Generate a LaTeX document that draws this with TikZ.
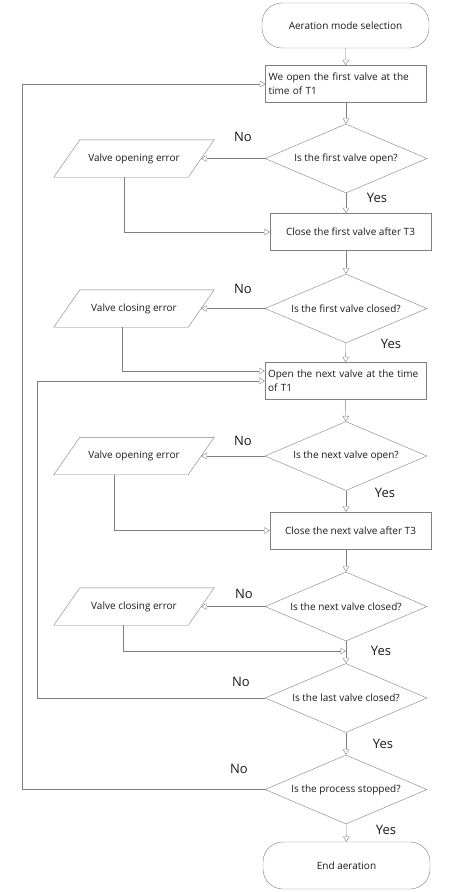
\documentclass[tikz,border=0pt]{standalone}
\usepackage{fontspec}
\setmainfont{Open Sans}
\usetikzlibrary{arrows.meta,shapes.geometric}
\definecolor{linegray}{RGB}{128,128,128}
\definecolor{textgray}{RGB}{25,25,25}

\begin{document}
\begin{tikzpicture}[x=1pt, y=1pt,
    term/.style={draw=linegray, rounded corners=20pt, minimum width=167pt, minimum height=45pt, text=textgray, font=\fontsize{10}{12}\selectfont},
    proc/.style={draw=linegray, minimum width=161pt, minimum height=37pt, inner sep=3pt, text=textgray, font=\fontsize{10}{14}\selectfont},
    procleft/.style={proc, text width=155pt, align=left},
    decision/.style={draw=linegray, diamond, aspect=2.35, inner sep=0pt, minimum width=162pt, minimum height=69pt, text=textgray, font=\fontsize{10}{12}\selectfont},
    errbox/.style={minimum width=134pt, minimum height=37pt, inner sep=0pt, text=textgray, font=\fontsize{10}{12}\selectfont},
    answer/.style={text=textgray, font=\fontsize{13}{15}\selectfont},
    arrow/.style={draw=linegray, -{Triangle[open, length=5.5pt, width=6.5pt]}}
  ]
    \useasboundingbox (0,0) rectangle (460,-892);

    \node[term] (start) at (345.5,-25.5) {Aeration mode selection};
    \node[procleft] (b1) at (346,-84) {We open the first valve at the\\time of T1};
    \node[decision] (d1) at (346,-158.5) {Is the first valve open?};
    \node[errbox] (e1) at (134,-158.5) {Valve opening error};
    \node[proc] (b2) at (350.5,-232) {Close the first valve after T3};
    \node[decision] (d2) at (346,-308.5) {Is the first valve closed?};
    \node[errbox] (e2) at (134,-308.5) {Valve closing error};
    \node[procleft] (b3) at (345.5,-381) {Open the next valve at the time\\of T1};
    \node[decision] (d3) at (346,-456) {Is the next valve open?};
    \node[errbox] (e3) at (134,-456) {Valve opening error};
    \node[proc] (b4) at (350.5,-530.5) {Close the next valve after T3};
    \node[decision] (d4) at (346,-606.5) {Is the next valve closed?};
    \node[errbox] (e4) at (134,-606.5) {Valve closing error};
    \node[decision] (d5) at (346,-698) {Is the last valve closed?};
    \node[decision] (d6) at (346,-789.5) {Is the process stopped?};
    \node[term, minimum height=47pt] (stop) at (346.5,-865.5) {End aeration};

    \foreach \e in {e1,e2,e3,e4}
      \draw[linegray] ([xshift=13pt]\e.north west) -- ([xshift=13pt]\e.north east)
        -- ([xshift=-13pt]\e.south east) -- ([xshift=-13pt]\e.south west) -- cycle;

    \node[answer] (no1) at (243,-137) {No};
    \node[answer] (yes1) at (377,-198) {Yes};
    \node[answer] (no2) at (243,-289) {No};
    \node[answer] (yes2) at (391,-344) {Yes};
    \node[answer] (no3) at (243,-441) {No};
    \node[answer] (yes3) at (385,-493) {Yes};
    \node[answer] (no4) at (244,-594) {No};
    \node[answer] (yes4) at (381,-651) {Yes};
    \node[answer] (no5) at (241,-682) {No};
    \node[answer] (yes5) at (383,-744) {Yes};
    \node[answer] (no6) at (239,-769) {No};
    \node[answer] (yes6) at (386,-830) {Yes};

    \draw[arrow] (start) -- (b1);
    \draw[arrow] (b1) -- (d1);
    \draw[arrow] (d1) -- (e1);
    \draw[arrow] (d1.south) -- (d1.south |- b2.north);
    \draw[arrow] ([xshift=-10pt]e1.south) |- (b2.west);
    \draw[arrow] (b2.south -| d1.south) -- (d2.north);
    \draw[arrow] (d2) -- (e2);
    \draw[arrow] (d2) -- (b3);
    \draw[arrow] ([xshift=-12pt]e2.south) |- ([yshift=10pt]b3.west);
    \draw[arrow] (b3) -- (d3);
    \draw[arrow] (d3) -- (e3);
    \draw[arrow] (d3.south) -- (d3.south |- b4.north);
    \draw[arrow] ([xshift=-20pt]e3.south) |- (b4.west);
    \draw[arrow] (b4.south -| d3.south) -- (d4.north);
    \draw[arrow] (d4) -- (e4);
    \draw[arrow] ([xshift=-11pt]e4.south) |- ([yshift=-10pt]d4.south);
    \draw[arrow] (d4) -- (d5);
    \draw[arrow] (d5.west) -| ([xshift=-228pt]b3.west) -- (b3.west);
    \draw[arrow] (d5) -- (d6);
    \draw[arrow] (d6.west) -| ([xshift=-243pt]b1.west) -- (b1.west);
    \draw[arrow] (d6) -- (stop);
\end{tikzpicture}
\end{document}
